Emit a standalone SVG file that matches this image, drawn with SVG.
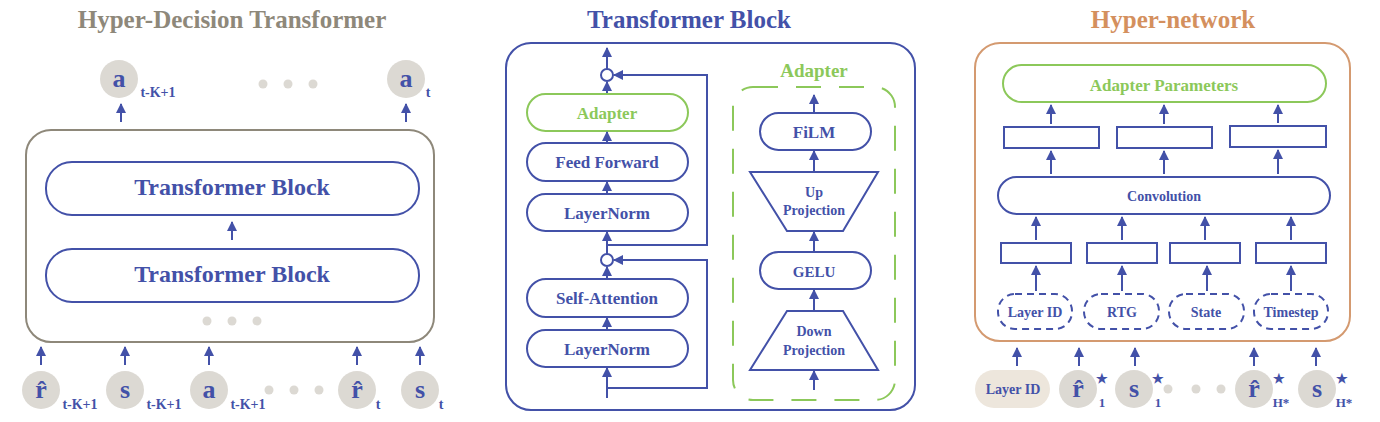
<svg xmlns="http://www.w3.org/2000/svg" width="1380" height="422" viewBox="0 0 1380 422">
<style>
text{font-family:"Liberation Serif","DejaVu Serif",serif;font-weight:bold;text-anchor:middle}
.b{fill:none;stroke:#4351a8;stroke-width:2}
.g{fill:none;stroke:#8cc85a;stroke-width:2}
.bt{fill:#4351a8}
.gt{fill:#8cc85a}
.c{fill:#dcd9d3}
.d{fill:#dcd9d3}
.ln{stroke:#4351a8;stroke-width:2;fill:none}
</style>
<defs>
<marker id="ah" viewBox="0 0 10 10" refX="9" refY="5" markerWidth="5" markerHeight="5" orient="auto"><path d="M0,0L10,5L0,10z" fill="#4351a8"/></marker>
</defs>
<rect width="1380" height="422" fill="#fff"/>
<text x="232" y="28" font-size="25" fill="#8e887a">Hyper-Decision Transformer</text>
<text x="689" y="28" font-size="25" class="bt">Transformer Block</text>
<text x="1173" y="28" font-size="25" fill="#d4905e">Hyper-network</text>

<g id="hdt">
<rect x="26" y="130" width="408" height="212" rx="25" fill="none" stroke="#8e887a" stroke-width="2"/>
<g id="tb1"><rect x="46" y="162" width="373" height="53" rx="26" class="b"/><text x="232" y="195" font-size="24" class="bt">Transformer Block</text></g>
<g id="tb2"><rect x="46" y="249" width="373" height="53" rx="26" class="b"/><text x="232" y="282" font-size="24" class="bt">Transformer Block</text></g>
<circle cx="207" cy="321" r="4.5" class="d"/><circle cx="232" cy="321" r="4.5" class="d"/><circle cx="257" cy="321" r="4.5" class="d"/>
<g id="a1"><circle cx="119" cy="79" r="19" class="c"/><text x="119" y="87" font-size="26" class="bt">a</text><text x="158" y="97" font-size="14" class="bt">t-K+1</text></g>
<g id="at"><circle cx="406" cy="79" r="19" class="c"/><text x="406" y="87" font-size="26" class="bt">a</text><text x="428" y="97" font-size="14" class="bt">t</text></g>
<circle cx="263" cy="84" r="4.5" class="d"/><circle cx="288" cy="84" r="4.5" class="d"/><circle cx="313" cy="84" r="4.5" class="d"/>
<g id="r1"><circle cx="41" cy="390" r="19" class="c"/><text x="41" y="398" font-size="26" class="bt">r̂</text><text x="80" y="409" font-size="14" class="bt">t-K+1</text></g>
<g id="s1"><circle cx="125" cy="390" r="19" class="c"/><text x="125" y="398" font-size="26" class="bt">s</text><text x="164" y="409" font-size="14" class="bt">t-K+1</text></g>
<g id="a2"><circle cx="209" cy="390" r="19" class="c"/><text x="209" y="398" font-size="26" class="bt">a</text><text x="248" y="409" font-size="14" class="bt">t-K+1</text></g>
<circle cx="269" cy="390" r="4.5" class="d"/><circle cx="294" cy="390" r="4.5" class="d"/><circle cx="319" cy="390" r="4.5" class="d"/>
<g id="rt"><circle cx="357" cy="390" r="19" class="c"/><text x="357" y="398" font-size="26" class="bt">r̂</text><text x="378" y="409" font-size="14" class="bt">t</text></g>
<g id="st"><circle cx="420" cy="390" r="19" class="c"/><text x="420" y="398" font-size="26" class="bt">s</text><text x="441" y="409" font-size="14" class="bt">t</text></g>
</g>

<g id="tblock">
<rect x="506" y="43" width="409" height="367" rx="25" class="b"/>
<g id="ad"><rect x="527" y="94" width="161" height="37" rx="18.5" class="g"/><text x="607" y="119" font-size="17" class="gt">Adapter</text></g>
<g id="ff"><rect x="527" y="143" width="161" height="38" rx="19" class="b"/><text x="607" y="168" font-size="17" class="bt">Feed Forward</text></g>
<g id="ln1"><rect x="527" y="194" width="161" height="37" rx="18.5" class="b"/><text x="607" y="219" font-size="17" class="bt">LayerNorm</text></g>
<g id="sa"><rect x="527" y="279" width="161" height="38" rx="19" class="b"/><text x="607" y="304" font-size="17" class="bt">Self-Attention</text></g>
<g id="ln2"><rect x="527" y="330" width="161" height="37" rx="18.5" class="b"/><text x="607" y="355" font-size="17" class="bt">LayerNorm</text></g>
<circle cx="607" cy="75" r="6" fill="#fff" class="ln"/>
<circle cx="607" cy="260" r="6" fill="#fff" class="ln"/>
<rect x="733" y="87" width="162" height="313" rx="20" fill="none" stroke="#8cc85a" stroke-width="2" stroke-dasharray="25,18"/>
<text x="814" y="77" font-size="19" class="gt">Adapter</text>
<g id="film"><rect x="760" y="113" width="111" height="37" rx="18.5" class="b"/><text x="814" y="138" font-size="17" class="bt">FiLM</text></g>
<g id="up"><path d="M750,172H878L843,231H787Z" class="b"/><text x="814" y="197" font-size="14" class="bt">Up</text><text x="814" y="215" font-size="14" class="bt">Projection</text></g>
<g id="gelu"><rect x="760" y="252" width="111" height="37" rx="18.5" class="b"/><text x="814" y="277" font-size="15" class="bt">GELU</text></g>
<g id="down"><path d="M787,311H843L878,370H750Z" class="b"/><text x="814" y="336" font-size="14" class="bt">Down</text><text x="814" y="355" font-size="14" class="bt">Projection</text></g>
</g>

<g id="hyper">
<rect x="975" y="43" width="375" height="298" rx="25" fill="none" stroke="#d49a70" stroke-width="2"/>
<g id="ap"><rect x="1003" y="65" width="323" height="37" rx="18.5" class="g"/><text x="1164" y="91" font-size="17" class="gt">Adapter Parameters</text></g>
<rect x="1004" y="127" width="95" height="21" class="b"/><rect x="1117" y="127" width="95" height="21" class="b"/><rect x="1230" y="126" width="96" height="21" class="b"/>
<g id="conv"><rect x="998" y="177" width="332" height="37" rx="18.5" class="b"/><text x="1164" y="201" font-size="14" class="bt">Convolution</text></g>
<rect x="1001" y="243" width="70" height="20" class="b"/><rect x="1087" y="243" width="70" height="20" class="b"/><rect x="1170" y="243" width="70" height="20" class="b"/><rect x="1256" y="243" width="70" height="20" class="b"/>
<g id="lid"><rect x="998" y="294" width="74" height="35" rx="17" class="b" stroke-dasharray="7,5"/><text x="1035" y="317" font-size="14" class="bt">Layer ID</text></g>
<g id="rtg"><rect x="1084" y="294" width="75" height="35" rx="17" class="b" stroke-dasharray="7,5"/><text x="1122" y="317" font-size="14" class="bt">RTG</text></g>
<g id="state"><rect x="1169" y="294" width="75" height="35" rx="17" class="b" stroke-dasharray="7,5"/><text x="1206" y="317" font-size="14" class="bt">State</text></g>
<g id="ts"><rect x="1254" y="294" width="74" height="35" rx="17" class="b" stroke-dasharray="7,5"/><text x="1291" y="317" font-size="14" class="bt">Timestep</text></g>
<g id="lidin"><rect x="975" y="370" width="75" height="38" rx="19" fill="#ede6dc"/><text x="1013" y="394" font-size="14" class="bt">Layer ID</text></g>
<g id="r1s"><circle cx="1078" cy="389" r="19" class="c"/><text x="1078" y="397" font-size="26" class="bt">r̂</text><text x="1102" y="383" font-size="13" class="bt">★</text><text x="1102" y="407" font-size="13" class="bt">1</text></g>
<g id="s1s"><circle cx="1134" cy="389" r="19" class="c"/><text x="1134" y="397" font-size="26" class="bt">s</text><text x="1158" y="383" font-size="13" class="bt">★</text><text x="1158" y="407" font-size="13" class="bt">1</text></g>
<circle cx="1168" cy="389" r="4.5" class="d"/><circle cx="1196" cy="389" r="4.5" class="d"/><circle cx="1221" cy="389" r="4.5" class="d"/>
<g id="rhs"><circle cx="1254" cy="389" r="19" class="c"/><text x="1254" y="397" font-size="26" class="bt">r̂</text><text x="1279" y="383" font-size="13" class="bt">★</text><text x="1281" y="407" font-size="13" class="bt">H*</text></g>
<g id="shs"><circle cx="1317" cy="389" r="19" class="c"/><text x="1317" y="397" font-size="26" class="bt">s</text><text x="1342" y="383" font-size="13" class="bt">★</text><text x="1344" y="407" font-size="13" class="bt">H*</text></g>
</g>

<g id="connectors" class="ln" marker-end="url(#ah)">
<path d="M121,122V104"/><path d="M406,122V104"/><path d="M232,240V222"/>
<path d="M41,365V347"/><path d="M125,365V347"/><path d="M209,365V347"/><path d="M357,365V347"/><path d="M420,365V347"/>
<path d="M607,398V368"/><path d="M607,329V318"/><path d="M607,278V267"/><path d="M607,254V232"/><path d="M607,193V182"/><path d="M607,142V132"/><path d="M607,93V82"/><path d="M607,69V48"/>
<path d="M607,388H707V260H614"/><path d="M607,245H707V75H614"/>
<path d="M814,390V371"/><path d="M814,310V290"/><path d="M814,251V232"/><path d="M814,171V151"/><path d="M814,112V95"/>
<path d="M1051,124V105"/><path d="M1164,124V105"/><path d="M1278,123V105"/>
<path d="M1051,174V151"/><path d="M1164,174V151"/><path d="M1278,174V150"/>
<path d="M1036,240V217"/><path d="M1122,240V217"/><path d="M1205,240V217"/><path d="M1291,240V217"/>
<path d="M1036,291V266"/><path d="M1122,291V266"/><path d="M1207,291V266"/><path d="M1291,291V266"/>
<path d="M1017,366V348"/><path d="M1079,366V348"/><path d="M1135,366V348"/><path d="M1254,366V348"/><path d="M1316,366V348"/>
</g>
</svg>
